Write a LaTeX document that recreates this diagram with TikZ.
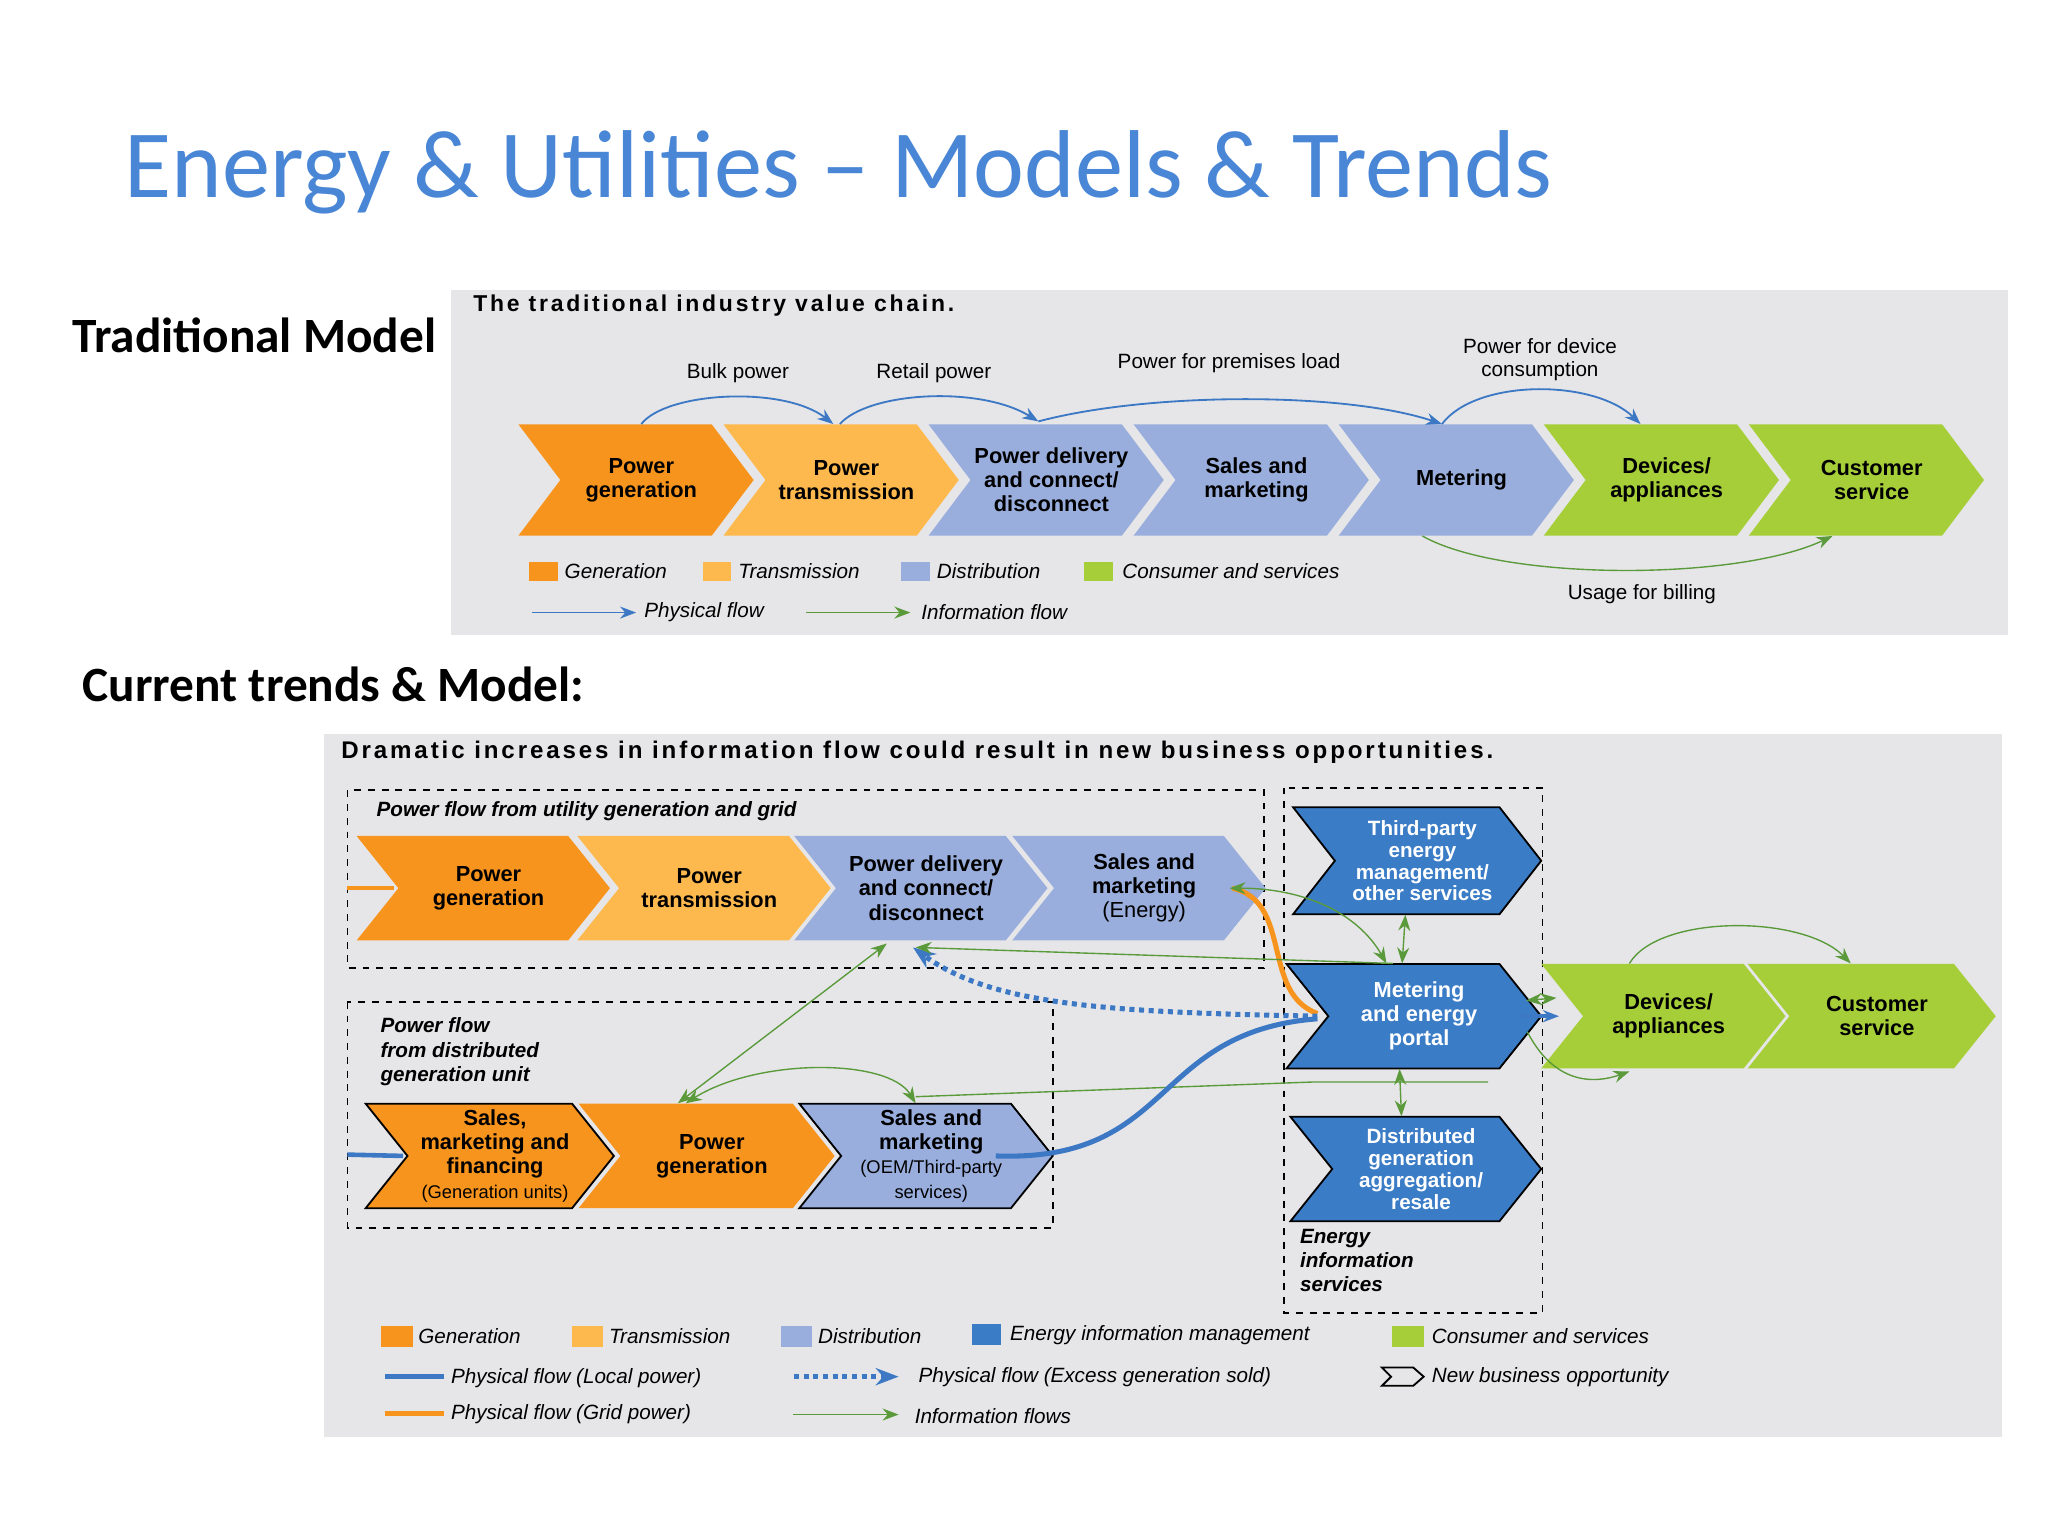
\documentclass[tikz,border=0pt]{standalone}
\usepackage{fontspec}
\setmainfont{Liberation Sans}
\newfontfamily\calfont{Carlito}
\newfontfamily\wideb[LetterSpace=12]{Liberation Sans}
\usetikzlibrary{calc,arrows.meta}
\definecolor{gen}{HTML}{F7941D}
\definecolor{tra}{HTML}{FDB94E}
\definecolor{dis}{HTML}{99AEDD}
\definecolor{con}{HTML}{A6CE39}
\definecolor{eim}{HTML}{3A7CC6}
\definecolor{pan}{HTML}{E6E6E8}
\definecolor{ttl}{HTML}{4A86D6}
\definecolor{gline}{HTML}{5A9A3A}
\definecolor{bline}{HTML}{3D78C4}
\newcommand\chev[9]{%
 \path[fill=#6,#7] (#2,#3) -- ++(#4-32,0) -- ++(32,#5/2) -- ++(-32,#5/2) -- ++(-#4+32,0) -- ++(32,-#5/2) -- cycle;
 \node[inner sep=0,minimum width=#4*0.02cm-1.2cm,minimum height=#5*0.02cm,align=center,font=\bfseries\fontsize{9.5}{10.5}\selectfont,#8] (#1) at (#2+#4/2+4,#3+#5/2) {#9};}
\tikzset{
 lab/.style={font=\fontsize{9}{10}\selectfont,anchor=west,inner sep=0},
 ilab/.style={font=\itshape\fontsize{9}{10}\selectfont,anchor=west,inner sep=0},
 bilab/.style={font=\bfseries\itshape\fontsize{9}{10.5}\selectfont,anchor=north west,inner sep=0,align=left},
 box/.style={draw=black,dashed,thick},
 pflow/.style={bline,thick,-{Stealth[length=7pt]}},
 iflow/.style={gline,semithick,-{Stealth[length=7pt]}},
 iflow2/.style={gline,semithick,{Stealth[length=7pt]}-{Stealth[length=7pt]}},
 nbo/.style={draw=black,thick},
}
\begin{document}
\begin{tikzpicture}[x=0.02cm,y=-0.02cm]
\useasboundingbox (0,0) rectangle (1568,1176);
\node[anchor=west,text=ttl,font=\calfont\fontsize{42}{48}\selectfont,inner sep=0] (title) at (95,132) {Energy \& Utilities – Models \& Trends};
\node[anchor=west,font=\calfont\bfseries\fontsize{21.5}{24}\selectfont,inner sep=0] (tm) at (55,257) {Traditional Model};
\node[anchor=west,font=\calfont\bfseries\fontsize{21.5}{24}\selectfont,inner sep=0] (ct) at (63,524) {Current trends \& Model:};
% ---------- top panel
\fill[pan] (345,222) rectangle (1537,486);
\node[anchor=west,inner sep=0,font=\wideb\bfseries\fontsize{10}{11}\selectfont] (h1) at (362,234) {The traditional industry value chain.};
\chev{a1}{397}{325}{180}{85}{gen}{}{}{Power\\generation}
\chev{a2}{554}{325}{180}{85}{tra}{}{}{Power\\transmission}
\chev{a3}{711}{325}{180}{85}{dis}{}{}{Power delivery\\and connect/\\disconnect}
\chev{a4}{868}{325}{180}{85}{dis}{}{}{Sales and\\marketing}
\chev{a5}{1025}{325}{180}{85}{dis}{}{}{Metering}
\chev{a6}{1182}{325}{180}{85}{con}{}{}{Devices/\\appliances}
\chev{a7}{1339}{325}{180}{85}{con}{}{}{Customer\\service}
\draw[pflow] ($(a1.north)+(0,0)$) .. controls (510,300) and (600,295) .. ($(a2.north)+(-10,0)$);
\draw[pflow] ($(a2.north)+(-5,0)$) .. controls (665,300) and (750,295) .. ($(a3.north)+(-10,-2)$);
\draw[pflow] ($(a3.north)+(-10,-2)$) .. controls (880,300) and (1030,300) .. ($(a5.north)+(-15,0)$);
\draw[pflow] ($(a5.north)+(-15,0)$) .. controls (1130,290) and (1220,290) .. ($(a6.north)+(-20,0)$);
\node[lab,anchor=center] (l1) at (565,286) {Bulk power};
\node[lab,anchor=center] (l2) at (715,286) {Retail power};
\node[lab,anchor=center] (l3) at (941,278) {Power for premises load};
\node[lab,anchor=center,align=center] (l4) at (1179,275) {Power for device\\consumption};
\draw[iflow] ($(a5.south)+(-30,0)$) .. controls (1150,445) and (1330,445) .. ($(a7.south)+(-30,0)$);
\node[lab,anchor=center] (l5) at (1257,455) {Usage for billing};
\fill[gen] (405,430) rectangle (427,445); \node[ilab] (g1) at (432,437) {Generation};
\fill[tra] (538,430) rectangle (560,445); \node[ilab] (g2) at (565,437) {Transmission};
\fill[dis] (690,430) rectangle (712,445); \node[ilab] (g3) at (717,437) {Distribution};
\fill[con] (830,430) rectangle (852,445); \node[ilab] (g4) at (859,437) {Consumer and services};
\coordinate (p1) at (407,469); \coordinate (p2) at (487,469);
\draw[pflow,semithick] (p1) -- (p2); \node[ilab] (g5) at (493,469) {Physical flow};
\coordinate (q1) at (617,469); \coordinate (q2) at (697,469);
\draw[iflow] (q1) -- (q2); \node[ilab] (g6) at (705,469) {Information flow};
% ---------- bottom panel
\fill[pan] (248,562) rectangle (1533,1100);
\node[anchor=west,inner sep=0,font=\wideb\bfseries\fontsize{10.5}{11}\selectfont] (h2) at (261,576) {Dramatic increases in information flow could result in new business opportunities.};
\draw[box] (266,605) rectangle (968,741);
\draw[box] (266,767) rectangle (806,940);
\draw[box] (983,603) rectangle (1181,1005);
\node[bilab] (bl1) at (288,613) {Power flow from utility generation and grid};
\node[bilab] (bl2) at (291,779) {Power flow\\from distributed\\generation unit};
\node[bilab] (bl3) at (995,941) {Energy\\information\\services};
\chev{b1}{273}{640}{194}{80}{gen}{}{}{Power\\generation}
\chev{b2}{442}{640}{194}{80}{tra}{}{}{Power\\transmission}
\chev{b3}{608}{640}{194}{80}{dis}{}{}{Power delivery\\and connect/\\disconnect}
\chev{b4}{775}{640}{194}{80}{dis}{}{}{Sales and\\marketing\\{\normalfont(Energy)}}
\chev{c1}{280}{845}{190}{80}{gen}{nbo}{}{Sales,\\marketing and\\financing\\{\normalfont\fontsize{8}{8.5}\selectfont(Generation units)}}
\chev{c2}{443}{845}{196}{80}{gen}{}{}{Power\\generation}
\chev{c3}{612}{845}{194}{80}{dis}{nbo}{}{Sales and\\marketing\\{\normalfont\fontsize{8}{8.5}\selectfont(OEM/Third-party}\\{\normalfont\fontsize{8}{8.5}\selectfont services)}}
\chev{d1}{990}{618}{190}{82}{eim}{nbo}{text=white,font=\bfseries\fontsize{9}{9.5}\selectfont}{Third-party\\energy\\management/\\other services}
\chev{d2}{985}{738}{195}{80}{eim}{nbo}{text=white}{Metering\\and energy\\portal}
\chev{d3}{988}{855}{192}{80}{eim}{nbo}{text=white,font=\bfseries\fontsize{9}{9.5}\selectfont}{Distributed\\generation\\aggregation/\\resale}
\chev{e1}{1180}{738}{187}{80}{con}{}{}{Devices/\\appliances}
\chev{e2}{1338}{738}{190}{80}{con}{}{}{Customer\\service}
% flows
\coordinate (gin) at (266,680); \coordinate (lin) at (266,884);
\draw[gen,line width=2pt] (gin) -- ($(b1.west)+(-5,0)$);
\draw[bline,line width=2pt] (lin) -- ($(c1.west)+(-5,0)$);
\draw[gen,line width=2.2pt] ($(b4.east)+(0,0)$) .. controls (990,690) and (965,760) .. ($(d2.west)+(-10,-2)$);
\draw[bline,line width=2.2pt,dotted,-{Stealth[length=10pt]}] ($(d2.west)+(-10,0)$) .. controls (850,775) and (760,770) .. ($(b3.south)+(-10,5)$);
\draw[iflow] ($(d2.north)+(-20,0)$) -- ($(b3.south)+(-8,5)$);
\draw[iflow2] ($(b4.east)+(-2,0)$) .. controls (1000,680) and (1040,700) .. ($(d2.north)+(-25,0)$);
\draw[iflow2] ($(d1.south)+(-13,0)$) -- ($(d2.north)+(-13,0)$);
\draw[iflow2] ($(d2.south)+(-15,0)$) -- ($(d3.north)+(-15,0)$);
\draw[iflow2] ($(c1.north)+(140,0)$) -- ($(b3.south)+(-30,2)$);
\draw[iflow2] ($(c2.north)+(-20,0)$) .. controls (580,810) and (680,810) .. ($(c3.north)+(-12,0)$);
\draw[gline,semithick] ($(c3.north)+(-12,-5)$) -- ($(d2.south)+(-80,10)$) -- ($(d2.south east)+(-15,10)$);
\draw[bline,line width=2.2pt] ($(c3.east)+(-18,0)$) .. controls (900,890) and (880,790) .. ($(d2.west)+(-10,2)$);
\draw[pflow,line width=1.6pt] ($(d2.east)+(10,0)$) -- ($(e1.west)+(-20,0)$);
\draw[iflow] ($(e1.north)+(-30,0)$) .. controls (1270,700) and (1380,700) .. ($(e2.north)+(-20,0)$);
\draw[iflow2] ($(d2.east)+(14,-12)$) -- ($(e1.west)+(-22,-14)$);
\draw[iflow] ($(d2.east)+(15,12)$) .. controls (1190,830) and (1220,830) .. ($(e1.south)+(-30,2)$);
% legend
\fill[gen] (292,1015) rectangle (316,1031); \node[ilab] (k1) at (320,1023) {Generation};
\fill[tra] (438,1015) rectangle (462,1031); \node[ilab] (k2) at (466,1023) {Transmission};
\fill[dis] (598,1015) rectangle (622,1031); \node[ilab] (k3) at (626,1023) {Distribution};
\fill[eim] (744,1014) rectangle (766,1030); \node[ilab] (k4) at (773,1022) {Energy information management};
\fill[con] (1066,1015) rectangle (1090,1031); \node[ilab] (k5) at (1096,1023) {Consumer and services};
\coordinate (m1) at (295,1054); \coordinate (m2) at (340,1054);
\draw[bline,line width=2.2pt] (m1) -- (m2); \node[ilab] (k6) at (345,1055) {Physical flow (Local power)};
\coordinate (m3) at (608,1054); \coordinate (m4) at (688,1054);
\draw[bline,line width=2.2pt,dotted,-{Stealth[length=10pt]}] (m3) -- (m4); \node[ilab] (k7) at (703,1054) {Physical flow (Excess generation sold)};
\draw[thick] (1058,1047) -- (1082,1047) -- (1090,1054) -- (1082,1061) -- (1058,1061) -- (1065,1054) -- cycle;
\node[ilab] (k8) at (1096,1054) {New business opportunity};
\coordinate (m5) at (295,1082); \coordinate (m6) at (340,1082);
\draw[gen,line width=2.2pt] (m5) -- (m6); \node[ilab] (k9) at (345,1083) {Physical flow (Grid power)};
\coordinate (m7) at (607,1083); \coordinate (m8) at (688,1083);
\draw[iflow] (m7) -- (m8); \node[ilab] (k10) at (700,1084) {Information flows};
\end{tikzpicture}
\end{document}
